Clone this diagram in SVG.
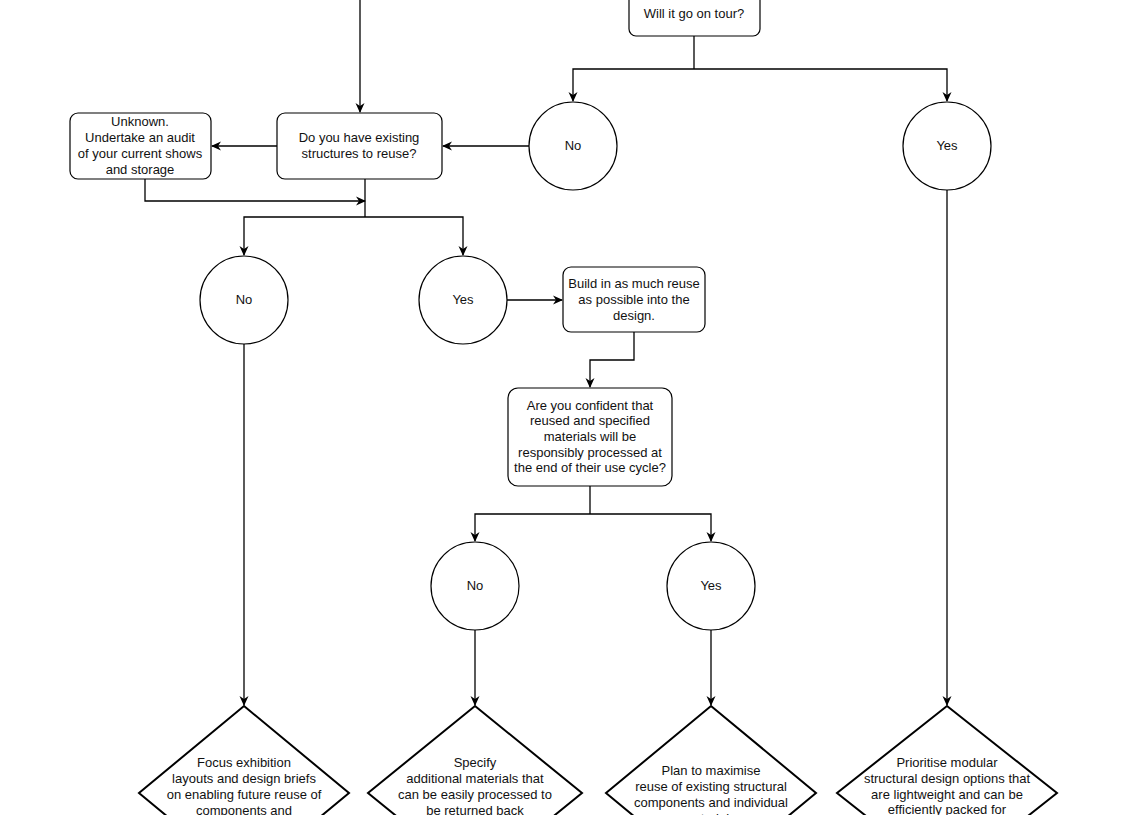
<svg xmlns="http://www.w3.org/2000/svg" width="1140" height="815" viewBox="0 0 1140 815">
<defs>
<marker id="arr" viewBox="0 0 10 10" refX="9" refY="5" markerWidth="10" markerHeight="10" markerUnits="userSpaceOnUse" orient="auto">
<path d="M0,0.5 L10,5 L0,9.5 L3,5 Z" fill="#000"/>
</marker>
<style>
.box{fill:#fff;stroke:#000;stroke-width:1.2}
.circ{fill:#fff;stroke:#000;stroke-width:1.2}
.dia{fill:#fff;stroke:#000;stroke-width:2}
.edge{fill:none;stroke:#000;stroke-width:1.3}
.arrow{marker-end:url(#arr)}
text{font-family:"Liberation Sans",Arial,sans-serif;font-size:13px;fill:#111;text-anchor:middle}
</style>
</defs>
<rect width="1140" height="815" fill="#fff"/>
<g id="connectors">
<path class="edge arrow" d="M360,0 L360,112"/>
<path class="edge" d="M694,36 L694,69"/>
<path class="edge arrow" d="M694,69 L573,69 L573,101"/>
<path class="edge arrow" d="M694,69 L947,69 L947,101"/>
<path class="edge arrow" d="M529,146 L443,146"/>
<path class="edge arrow" d="M277,146 L212,146"/>
<path class="edge arrow" d="M145,179 L145,201 L365,201"/>
<path class="edge" d="M365,179 L365,217"/>
<path class="edge arrow" d="M365,217 L244,217 L244,255"/>
<path class="edge arrow" d="M365,217 L463,217 L463,255"/>
<path class="edge arrow" d="M507,300 L562,300"/>
<path class="edge arrow" d="M634,332 L634,360 L590,360 L590,387"/>
<path class="edge" d="M590,486 L590,514"/>
<path class="edge arrow" d="M590,514 L475,514 L475,541"/>
<path class="edge arrow" d="M590,514 L711,514 L711,541"/>
<path class="edge arrow" d="M244,344 L244,705"/>
<path class="edge arrow" d="M475,630 L475,705"/>
<path class="edge arrow" d="M711,630 L711,705"/>
<path class="edge arrow" d="M947,190 L947,705"/>
</g>
<g id="tour">
<rect class="box" x="629" y="-24" width="131" height="60" rx="7"/>
<text x="694" y="18">Will it go on tour?</text>
</g>
<g id="tour-no">
<circle class="circ" cx="573" cy="146" r="44"/>
<text x="573" y="150">No</text>
</g>
<g id="tour-yes">
<circle class="circ" cx="947" cy="146" r="44"/>
<text x="947" y="150">Yes</text>
</g>
<g id="existing">
<rect class="box" x="277" y="113" width="165" height="66" rx="8"/>
<text x="359" y="142">Do you have existing</text>
<text x="359" y="158">structures to reuse?</text>
</g>
<g id="unknown">
<rect class="box" x="70" y="113" width="141" height="66" rx="8"/>
<text x="140" y="126">Unknown.</text>
<text x="140" y="142">Undertake an audit</text>
<text x="140" y="158">of your current shows</text>
<text x="140" y="174">and storage</text>
</g>
<g id="exist-no">
<circle class="circ" cx="244" cy="300" r="44"/>
<text x="244" y="304">No</text>
</g>
<g id="exist-yes">
<circle class="circ" cx="463" cy="300" r="44"/>
<text x="463" y="304">Yes</text>
</g>
<g id="build">
<rect class="box" x="563" y="267" width="142" height="65" rx="8"/>
<text x="634" y="288">Build in as much reuse</text>
<text x="634" y="304">as possible into the</text>
<text x="634" y="320">design.</text>
</g>
<g id="confident">
<rect class="box" x="508" y="388" width="164" height="98" rx="10"/>
<text x="590" y="410">Are you confident that</text>
<text x="590" y="425">reused and specified</text>
<text x="590" y="441">materials will be</text>
<text x="590" y="457">responsibly processed at</text>
<text x="590" y="472">the end of their use cycle?</text>
</g>
<g id="conf-no">
<circle class="circ" cx="475" cy="586" r="44"/>
<text x="475" y="590">No</text>
</g>
<g id="conf-yes">
<circle class="circ" cx="711" cy="586" r="44"/>
<text x="711" y="590">Yes</text>
</g>
<g id="focus">
<polygon class="dia" points="244,706 349,793 244,880 139,793"/>
<text x="244" y="767">Focus exhibition</text>
<text x="244" y="783">layouts and design briefs</text>
<text x="244" y="799">on enabling future reuse of</text>
<text x="244" y="815">components and</text>
</g>
<g id="specify">
<polygon class="dia" points="475,706 582,793 475,880 368,793"/>
<text x="475" y="767">Specify</text>
<text x="475" y="783">additional materials that</text>
<text x="475" y="799">can be easily processed to</text>
<text x="475" y="815">be returned back</text>
</g>
<g id="plan">
<polygon class="dia" points="711,706 816,793 711,880 606,793"/>
<text x="711" y="775">Plan to maximise</text>
<text x="711" y="791">reuse of existing structural</text>
<text x="711" y="807">components and individual</text>
<text x="711" y="823">materials.</text>
</g>
<g id="modular">
<polygon class="dia" points="947,706 1057,793 947,880 837,793"/>
<text x="947" y="767">Prioritise modular</text>
<text x="947" y="783">structural design options that</text>
<text x="947" y="799">are lightweight and can be</text>
<text x="947" y="814">efficiently packed for</text>
</g>
</svg>
